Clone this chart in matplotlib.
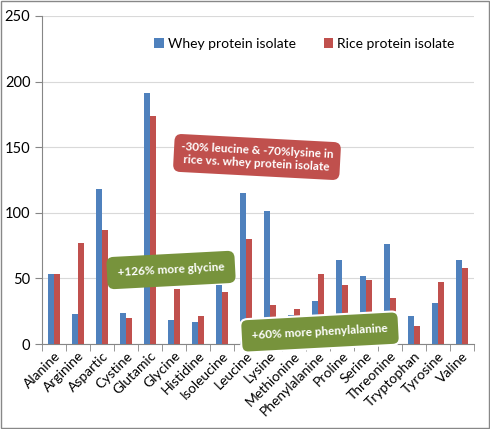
import matplotlib.pyplot as plt
import numpy as np

plt.rcParams['font.family'] = ['Lato', 'DejaVu Sans']

amino = ['Alanine', 'Arginine', 'Aspartic', 'Cystine', 'Glutamic', 'Glycine',
         'Histidine', 'Isoleucine', 'Leucine', 'Lysine', 'Methionine',
         'Phenylalanine', 'Proline', 'Serine', 'Threonine', 'Tryptophan',
         'Tyrosine', 'Valine']
whey = [53, 23, 118, 24, 191, 18, 17, 45, 115, 101, 22, 33, 64, 52, 76, 21, 31, 64]
rice = [53, 77, 87, 20, 174, 42, 21, 40, 80, 30, 27, 53, 45, 49, 35, 14, 47, 58]

blue = '#4F81BD'
red = '#C0504D'
green = '#77933C'

fig = plt.figure(figsize=(4.9, 4.29), dpi=100)
ax = fig.add_axes([0.086, 0.198, 0.881, 0.765])

x = np.arange(len(amino))
w = 0.26
ax.bar(x - w/2, whey, w, color=blue, label='Whey protein isolate', zorder=3)
ax.bar(x + w/2, rice, w, color=red, label='Rice protein isolate', zorder=3)

ax.set_xlim(-0.5, len(amino) - 0.5)
ax.set_ylim(0, 250)
ax.set_yticks(range(0, 251, 50))
ax.grid(axis='y', color='#D9D9D9', linewidth=0.8, zorder=0)
ax.set_axisbelow(True)
ax.set_xticks(x)
ax.set_xticklabels(amino, rotation=45, ha='right', rotation_mode='anchor', fontsize=10)
ax.tick_params(axis='x', length=0, pad=4)
ax.set_xticks(np.arange(-0.5, len(amino)), minor=True)
ax.tick_params(axis='x', which='minor', length=5, color='#868686')
ax.tick_params(axis='y', labelsize=10.5, length=5, color='#868686', direction='out')
for s in ['top', 'right']:
    ax.spines[s].set_visible(False)
for s in ['left', 'bottom']:
    ax.spines[s].set_color('#868686')

ax.legend(loc='upper right', bbox_to_anchor=(0.985, 0.97), ncol=2, frameon=False,
          fontsize=10, handlelength=0.7, handleheight=0.7, handletextpad=0.3,
          columnspacing=2.0)


def box(px, py, txt, rot, fc, ec='none', lw=0, pad=0.6):
    fig.text(px / 490, 1 - py / 429, txt, ha='center', va='center', rotation=rot,
             color='white', fontsize=8.5, fontweight='bold', linespacing=1.2, zorder=10,
             bbox=dict(boxstyle='round,pad=%s,rounding_size=0.6' % pad, fc=fc, ec=ec, lw=lw))


box(257, 157, '-30% leucine & -70%lysine in\nrice vs. whey protein isolate', -3, red)
box(171, 270, '+126% more glycine', 3, green, pad=0.9)
box(320, 332, '+60% more phenylalanine', 3, green, ec='white', lw=1.5, pad=0.95)

fig.patches.append(plt.Rectangle((0.002, 0.002), 0.996, 0.996, transform=fig.transFigure,
                                 fill=False, ec='#888888', lw=1))
fig.savefig('out.png', dpi=100)
